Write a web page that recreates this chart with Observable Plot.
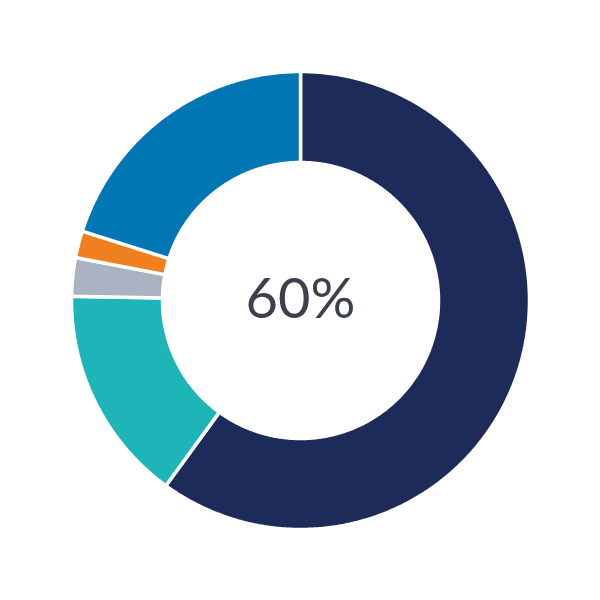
<!DOCTYPE html>
<html>
<head>
<meta charset="utf-8">
<script src="https://cdn.jsdelivr.net/npm/d3@7"></script>
<script src="https://cdn.jsdelivr.net/npm/@observablehq/plot@0.6"></script>
<style>
  html, body { margin: 0; padding: 0; background: #fff; }
  #chart { width: 600px; height: 600px; }
</style>
</head>
<body>
<div id="chart"></div>
<script>
// Data
const categories = ["A", "B", "C", "D", "E"];
const values = [60, 15.3, 2.7, 1.9, 20.1];
const colors = ["#1c2b5a", "#1db5b8", "#a9b3c1", "#f0801f", "#0076b5"];
const centerLabel = "60%";

// Geometry (pixel units, center at 0,0)
const outerR = 229;
const innerR = 138;

const pie = d3.pie().sort(null).value(d => d.value);
const slices = pie(categories.map((c, i) => ({ cat: c, value: values[i], color: colors[i] })));

const pts = [];
for (const s of slices) {
  const n = Math.max(4, Math.ceil((s.endAngle - s.startAngle) / (Math.PI / 360)));
  const ring = [];
  for (let k = 0; k <= n; k++) {
    const a = s.startAngle + (s.endAngle - s.startAngle) * k / n;
    ring.push([outerR * Math.sin(a), outerR * Math.cos(a)]);
  }
  for (let k = n; k >= 0; k--) {
    const a = s.startAngle + (s.endAngle - s.startAngle) * k / n;
    ring.push([innerR * Math.sin(a), innerR * Math.cos(a)]);
  }
  ring.push(ring[0]);
  for (const [x, y] of ring) pts.push({ cat: s.data.cat, color: s.data.color, x, y });
}

const chart = Plot.plot({
  width: 600,
  height: 600,
  margin: 0,
  x: { domain: [-300, 300], axis: null },
  y: { domain: [-300, 300], axis: null },
  style: { background: "#fff" },
  marks: [
    Plot.line(pts, {
      x: "x", y: "y", z: "cat",
      fill: d => d.color,
      stroke: "#fff", strokeWidth: 3.5, strokeLinejoin: "miter"
    }),
    Plot.text([centerLabel], {
      x: () => 0, y: () => 0, text: d => d,
      fontSize: 56, fill: "#3b404c",
      fontFamily: "Lato, sans-serif",
      textAnchor: "middle", dy: 0
    })
  ]
});
document.getElementById("chart").appendChild(chart);
</script>
</body>
</html>
